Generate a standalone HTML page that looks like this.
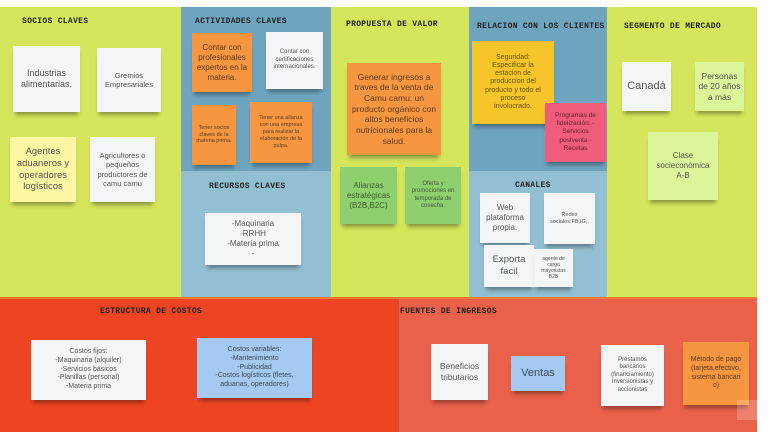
<!DOCTYPE html>
<html><head><meta charset="utf-8"><style>
*{margin:0;padding:0;box-sizing:border-box}
body{width:768px;height:432px;overflow:hidden;background:#fff;position:relative;font-family:"Liberation Sans",sans-serif}
.r{position:absolute}
.h{position:absolute;font-family:"Liberation Mono",monospace;font-weight:bold;font-size:8px;color:#222;letter-spacing:0.3px;white-space:nowrap}
.s{position:absolute;display:flex;align-items:center;justify-content:center;text-align:center;color:#555;line-height:1.25;box-shadow:0 5px 4px -2px rgba(0,0,0,0.35);padding:2px}
.w{background:#f4f5f7}
.o{background:#f79640;color:#5a3a20}
.g{background:#8fd06e;color:#3d5a33}
.lg{background:#dcf59a}
</style></head><body>
<div class="r" style="left:0;top:7px;width:181px;height:291px;background:#d5e65c"></div>
<div class="r" style="left:181px;top:7px;width:150px;height:164px;background:#6fa4bf"></div>
<div class="r" style="left:181px;top:171px;width:150px;height:127px;background:#92bfd1"></div>
<div class="r" style="left:331px;top:7px;width:138px;height:291px;background:#d5e65c"></div>
<div class="r" style="left:469px;top:7px;width:138px;height:164px;background:#6fa4bf"></div>
<div class="r" style="left:469px;top:171px;width:138px;height:127px;background:#92bfd1"></div>
<div class="r" style="left:607px;top:7px;width:150px;height:291px;background:#d5e65c"></div>
<div class="r" style="left:0;top:298px;width:399px;height:134px;background:#ed4524"></div>
<div class="r" style="left:399px;top:298px;width:358px;height:134px;background:#e9614a"></div>
<div class="r" style="left:0;top:297px;width:757px;height:2px;background:#f07a30"></div>

<div class="h" style="left:22px;top:17px">SOCIOS CLAVES</div>
<div class="h" style="left:195px;top:17px">ACTIVIDADES CLAVES</div>
<div class="h" style="left:346px;top:20px">PROPUESTA DE VALOR</div>
<div class="h" style="left:477px;top:22px">RELACION CON LOS CLIENTES</div>
<div class="h" style="left:624px;top:22px">SEGMENTO DE MERCADO</div>
<div class="h" style="left:209px;top:182px">RECURSOS CLAVES</div>
<div class="h" style="left:515px;top:181px">CANALES</div>
<div class="h" style="left:100px;top:307px">ESTRUCTURA DE COSTOS</div>
<div class="h" style="left:400px;top:307px">FUENTES DE INGRESOS</div>

<div class="s w" style="left:13px;top:46px;width:67px;height:66px;font-size:9px">Industrias alimentarias.</div>
<div class="s w" style="left:97px;top:48px;width:64px;height:64px;font-size:7.5px">Gremios Empresariales</div>
<div class="s" style="left:10px;top:137px;width:66px;height:65px;font-size:9.5px;background:#fdf6a3">Agentes aduaneros y operadores logísticos</div>
<div class="s w" style="left:90px;top:137px;width:65px;height:65px;font-size:7.5px">Agricultores o pequeños productores de camu camu</div>

<div class="s o" style="left:192px;top:33px;width:60px;height:59px;font-size:8px">Contar con profesionales expertos en la materia.</div>
<div class="s w" style="left:266px;top:32px;width:57px;height:57px;font-size:6px">Contar con certificaciones internacionales.</div>
<div class="s o" style="left:192px;top:105px;width:44px;height:60px;font-size:5.5px;padding:4px">Tener socios claves de la materia prima.</div>
<div class="s o" style="left:250px;top:102px;width:62px;height:61px;font-size:5.5px;padding:5px">Tener una alianza con una empresa para realizar la elaboración de la pulpa.</div>
<div class="s w" style="left:205px;top:213px;width:96px;height:52px;font-size:8px">-Maquinaria<br>-RRHH<br>-Materia prima<br>-</div>

<div class="s o" style="left:347px;top:63px;width:94px;height:92px;font-size:8.5px">Generar ingresos a traves de la venta de Camu camu: un producto orgánico con altos beneficios nutricionales para la salud.</div>
<div class="s g" style="left:340px;top:167px;width:57px;height:57px;font-size:8px">Alianzas estratégicas (B2B,B2C)</div>
<div class="s g" style="left:405px;top:167px;width:56px;height:57px;font-size:6px;padding:4px">Oferta y promociones en temporada de cosecha.</div>

<div class="s" style="left:472px;top:41px;width:82px;height:83px;font-size:7px;line-height:1.15;padding:4px 10px;background:#f6c52a;color:#6a5010">Seguridad: Especificar la estacion de produccion del producto y todo el proceso involucrado.</div>
<div class="s" style="left:545px;top:103px;width:61px;height:59px;font-size:6.5px;padding:4px 6px;background:#ef5c7c;color:#6a2030">Programas de fidelización: -Servicios postventa -Recetas</div>
<div class="s w" style="left:480px;top:193px;width:50px;height:50px;font-size:8px">Web plataforma propia.</div>
<div class="s w" style="left:544px;top:193px;width:51px;height:51px;font-size:5.5px;padding:4px">Redes sociales:FB,IG,.</div>
<div class="s w" style="left:484px;top:245px;width:50px;height:42px;font-size:9.5px">Exporta facil</div>
<div class="s w" style="left:534px;top:249px;width:39px;height:38px;font-size:5px;padding:3px">agente de carga mayoristas B2B</div>

<div class="s w" style="left:622px;top:62px;width:49px;height:49px;font-size:11px">Canadá</div>
<div class="s lg" style="left:695px;top:62px;width:49px;height:49px;font-size:8.5px">Personas de 20 años a más</div>
<div class="s lg" style="left:648px;top:132px;width:70px;height:68px;font-size:8px;padding:4px">Clase socieconómica A-B</div>

<div class="s w" style="left:31px;top:340px;width:115px;height:60px;font-size:7px">Costos fijos:<br>-Maquinaria (alquiler)<br>-Servicios básicos<br>-Planillas (personal)<br>-Materia prima</div>
<div class="s" style="left:197px;top:338px;width:115px;height:60px;font-size:7px;padding:2px 10px;background:#a5c9f0;color:#3a4a60">Costos variables:<br>-Mantenimiento<br>-Publicidad<br>-Costos logísticos (fletes, aduanas, operadores)</div>
<div class="s w" style="left:431px;top:344px;width:57px;height:56px;font-size:8.5px">Beneficios tributarios</div>
<div class="s" style="left:511px;top:356px;width:54px;height:35px;font-size:11px;background:#a5c9f0;color:#3a4a60">Ventas</div>
<div class="s w" style="left:601px;top:345px;width:63px;height:61px;font-size:6px;padding:4px">Préstamos bancarios (financiamiento) Inversionistas y accionistas</div>
<div class="s o" style="left:683px;top:342px;width:66px;height:63px;font-size:7px;padding:4px 7px;word-break:break-all">Método de pago (tarjeta,efectivo,sistema bancario)</div>
<div class="r" style="left:737px;top:400px;width:31px;height:20px;background:rgba(255,255,255,0.2)"></div>
</body></html>
